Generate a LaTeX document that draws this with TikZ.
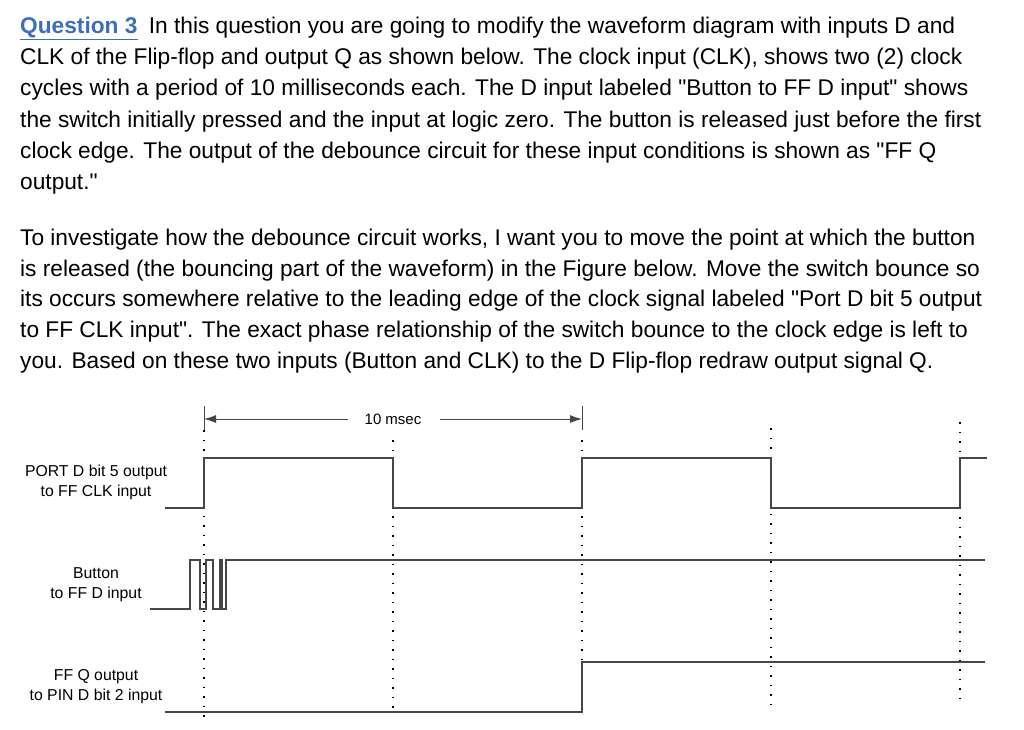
\documentclass[tikz,border=0pt]{standalone}
\usepackage{fontspec}
\usetikzlibrary{arrows.meta}
\setmainfont{Liberation Sans}
\definecolor{qblue}{RGB}{60,110,190}
\definecolor{wave}{RGB}{70,70,70}
\newcommand{\qq}{\textquotedbl}
\begin{document}
\begin{tikzpicture}[x=1pt,y=-1pt,
  txt/.style={anchor=base west,inner sep=0pt,font=\fontsize{22.7}{24}\selectfont},
  lbl/.style={align=center,inner sep=0pt,font=\fontsize{15.8}{20}\selectfont},
  sig/.style={draw=wave,line width=1.3pt},
  grid/.style={draw=black,line width=1.2pt,dash pattern=on 1.5pt off 8pt}]
\useasboundingbox (0,0) rectangle (1024,729);
\node[txt] (l1) at (20,33) {\textcolor{qblue}{\underline{\textbf{Question 3}}}\enspace In this question you are going to modify the waveform diagram with inputs D and};
\node[txt] (l2) at (20,64) {CLK of the Flip-flop and output Q as shown below. The clock input (CLK), shows two (2) clock};
\node[txt] (l3) at (20,95) {cycles with a period of 10 milliseconds each. The D input labeled \qq Button to FF D input\qq{} shows};
\node[txt] (l4) at (20,127) {the switch initially pressed and the input at logic zero. The button is released just before the first};
\node[txt] (l5) at (20,158) {clock edge. The output of the debounce circuit for these input conditions is shown as \qq FF Q};
\node[txt] (l6) at (20,189) {output.\qq};
\node[txt] (m1) at (20,245) {To investigate how the debounce circuit works, I want you to move the point at which the button};
\node[txt] (m2) at (20,276) {is released (the bouncing part of the waveform) in the Figure below. Move the switch bounce so};
\node[txt] (m3) at (20,306) {its occurs somewhere relative to the leading edge of the clock signal labeled \qq Port D bit 5 output};
\node[txt] (m4) at (20,337) {to FF CLK input\qq. The exact phase relationship of the switch bounce to the clock edge is left to};
\node[txt] (m5) at (20,368) {you. Based on these two inputs (Button and CLK) to the D Flip-flop redraw output signal Q.};
% labels
\node[lbl] (lc) at (96,482) {PORT D bit 5 output\\to FF CLK input};
\node[lbl] (lb) at (96,585) {Button\\to FF D input};
\node[lbl] (lq) at (96,687) {FF Q output\\to PIN D bit 2 input};
% dotted grid
\foreach \x/\a/\b in {204/430/720,393/440/712,582/440/712,771/428/710,960/422/706}
  \draw[grid] (\x,\a) -- (\x,\b);
% period arrow
\node[font=\fontsize{15}{16}\selectfont,inner sep=2pt] (ms) at (393,419) {10 msec};
\coordinate (pl) at (204,419);
\coordinate (pr) at (582,419);
\draw[wave,line width=1pt] (204,406) -- (204,430) (582,406) -- (582,430);
\draw[wave,line width=1pt,-{Latex[length=12pt,width=8pt]}] (348,419) -- (pl);
\draw[wave,line width=1pt,-{Latex[length=12pt,width=8pt]}] (440,419) -- (pr);
% clock
\draw[sig] (165,508) -- (204,508) -- (204,458) -- (393,458) -- (393,508) -- (582,508) -- (582,458) -- (771,458) -- (771,508) -- (960,508) -- (960,458) -- (987,458);
% button
\draw[sig] (150,609) -- (190,609) -- (190,560) -- (200,560) -- (200,609) -- (206,609) -- (206,560) -- (213,560) -- (213,609) -- (220,609) -- (220,560) -- (222,560) -- (222,609) -- (226,609) -- (226,560) -- (985,560);
% Q
\draw[sig] (165,712) -- (582,712) -- (582,662) -- (985,662);
\end{tikzpicture}
\end{document}
